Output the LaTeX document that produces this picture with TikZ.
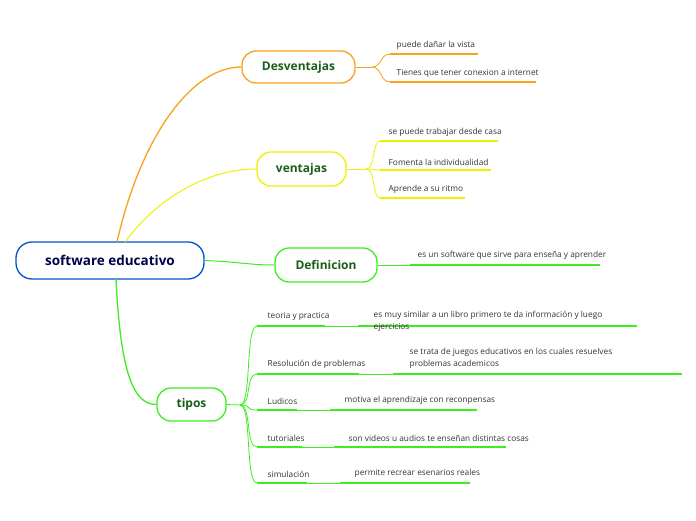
\documentclass[tikz,border=0pt]{standalone}
\usepackage{fontspec}
\setmainfont{Open Sans}
\begin{document}
\begin{tikzpicture}[x=1pt,y=-1pt,
 topic/.style={draw,line width=1.3pt,rounded corners=14pt,fill=white,font=\bfseries\fontsize{12}{14}\selectfont,text=green!30!black!90,inner sep=0pt},
 leaf/.style={anchor=south west,inner sep=1.5pt,font=\fontsize{8.3}{12}\selectfont,text=black!80,align=left},
 ul/.style={line width=2pt},
 br/.style={line width=0.8pt}]
\useasboundingbox (0,0) rectangle (696,520);
\definecolor{co}{HTML}{F9A11B}\definecolor{cy}{HTML}{EEF000}\definecolor{cg}{HTML}{3CEE1E}
% main
\node[topic,draw=blue!60!cyan!80!black,minimum width=188pt,minimum height=37pt,text=blue!30!black,font=\bfseries\fontsize{13.5}{16}\selectfont,rounded corners=16pt] (m) at (110,260.5) {software educativo};
\node[topic,draw=co,minimum width=113pt,minimum height=32pt] (d) at (298.5,67) {Desventajas};
\node[topic,draw=cy,minimum width=89pt,minimum height=34pt] (v) at (301.5,169) {ventajas};
\node[topic,draw=cg,minimum width=102pt,minimum height=34pt] (f) at (326,265) {Definicion};
\node[topic,draw=cg,minimum width=69pt,minimum height=33pt] (t) at (191.5,404.5) {tipos};
\coordinate (mo) at (117,242);\coordinate (my) at (125,242);\coordinate (mt) at (116,279);
\draw[co,line width=1.3pt] (mo) .. controls (140,140) and (190,67) .. (d.west);
\draw[cy,line width=1pt] (my) .. controls (160,195) and (210,169) .. (v.west);
\draw[cg,line width=1pt] (m.east) .. controls (240,262) and (250,265) .. (f.west);
\draw[cg,line width=1.3pt] (mt) .. controls (120,360) and (130,405) .. (t.west);
% desventajas
\coordinate (dj) at (372,67);
\draw[co,br] (d.east) -- (dj);
\foreach \y/\x/\t [count=\i] in {54/478/puede dañar la vista,82/536/Tienes que tener conexion a internet}{
 \node[leaf] (dl\i) at (395,\y-3) {\t};
 \draw[co,ul] (390,\y) -- (\x,\y);
 \draw[co,br] (dj) .. controls (382,67) and (380,\y) .. (390,\y);}
% ventajas
\coordinate (vj) at (366,169);
\draw[cy,br] (v.east) -- (vj);
\foreach \y/\x/\t [count=\i] in {141/498/se puede trabajar desde casa,170/491/Fomenta la individualidad,198/465/Aprende a su ritmo}{
 \node[leaf] (vl\i) at (387,\y-3) {\t};
 \draw[cy,ul] (380,\y) -- (\x,\y);
 \draw[cy,br] (vj) .. controls (376,169) and (372,\y) .. (380,\y);}
% definicion
\node[leaf] (fl) at (416,261) {es un software que sirve para enseña y aprender};
\draw[cg,ul] (410,265) -- (600,265);
\draw[cg,br] (f.east) -- (410,265);
% tipos
\coordinate (tj) at (240,405);
\draw[cg,br] (t.east) -- (tj);
\foreach \y/\a/\b/\c/\t [count=\i] in {
 326/325/358/637/teoria y practica,
 374/359/393/682/Resolución de problemas,
 410/297/330/477/Ludicos,
 447/302/334/506/tutoriales,
 483/307/340/470/simulación}{
 \node[leaf] (tc\i) at (266,\y-4) {\t};
 \draw[cg,ul] (257,\y) -- (\a,\y);
 \draw[cg,br] (tj) .. controls (252,405) and (245,\y) .. (257,\y);
 \draw[cg,br] (\a,\y) -- (\b,\y);
 \draw[cg,ul] (\b,\y) -- (\c,\y);}
\node[leaf,anchor=north west] (tl1) at (372,309) {es muy similar a un libro primero te da información y luego\\ejercicios};
\node[leaf,anchor=north west] (tl2) at (408,346) {se trata de juegos educativos en los cuales resuelves\\problemas academicos};
\node[leaf] (tl3) at (343,406) {motiva el aprendizaje con reconpensas};
\node[leaf] (tl4) at (347,443) {son videos u audios te enseñan distintas cosas};
\node[leaf] (tl5) at (353,479) {permite recrear esenarios reales};
\end{tikzpicture}
\end{document}
